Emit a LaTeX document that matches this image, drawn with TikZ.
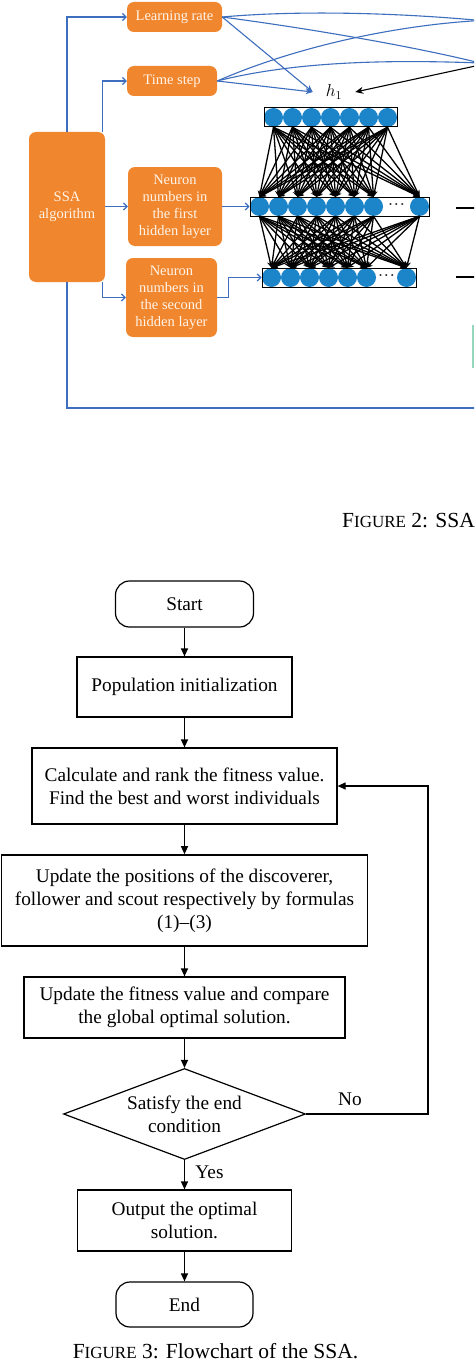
\documentclass[tikz,border=0pt]{standalone}
\usepackage{fontspec}
\setmainfont{Liberation Serif}
\usetikzlibrary{arrows.meta,shapes.geometric,calc}
\definecolor{ssaorange}{RGB}{240,134,46}
\definecolor{ssatext}{RGB}{255,244,232}
\definecolor{ssablue}{RGB}{62,110,190}
\definecolor{neuronblue}{RGB}{28,132,200}
\definecolor{ssagreen}{RGB}{150,215,190}
\begin{document}
\begin{tikzpicture}[x=1pt,y=-1pt,
  obox/.style={draw=none, fill=ssaorange, rounded corners=7pt, text=ssatext, font=\fontsize{14.5}{17}\selectfont, align=center, inner sep=0pt},
  bl/.style={draw=ssablue, line width=1.2pt},
  barb/.style={-{Straight Barb[length=3.5pt,width=7pt]}},
  neu/.style={circle, fill=neuronblue, minimum size=19pt, inner sep=0pt},
  layerbox/.style={draw=black, line width=1pt, inner sep=0pt, minimum height=19pt},
  syn/.style={black, line width=1.3pt, -{Stealth[length=6pt,width=6pt]}},
  fbox/.style={draw=black, line width=1.2pt, align=center, inner sep=0pt, font=\fontsize{19.3}{23}\selectfont},
  farrow/.style={black, line width=1.2pt, -{Triangle[length=8pt,width=7pt]}},
  lbl/.style={font=\fontsize{19.3}{23}\selectfont, inner sep=0pt},
  capt/.style={font=\fontsize{21.5}{22}\selectfont, inner sep=0pt},
  dotsl/.style={font=\bfseries\fontsize{12}{12}\selectfont, text=black!85, inner sep=0pt},
]
\useasboundingbox (0,0) rectangle (474,1362);
\clip (0,0) rectangle (474,1362);
\fill[white] (0,0) rectangle (474,1362);

% ---------- Figure 2 (cropped) ----------
\node[obox, minimum width=95pt, minimum height=30pt] (LR) at (174.5,17) {Learning rate};
\node[obox, minimum width=90pt, minimum height=30pt] (TS) at (172,81) {Time step};
\node[obox, minimum width=76pt, minimum height=150pt] (SSA) at (67,207) {SSA\\algorithm};
\node[obox, minimum width=94pt, minimum height=79pt] (N1) at (175,206.5) {Neuron\\numbers in\\the first\\hidden layer};
\node[obox, minimum width=91pt, minimum height=79pt] (N2) at (171.5,297.5) {Neuron\\numbers in\\the second\\hidden layer};

% neurons
\foreach \i in {1,...,7} \node[neu] (a\i) at ({273.5+19*(\i-1)},117.5) {};
\foreach \i in {1,...,7} \node[neu] (b\i) at ({259.5+19*(\i-1)},206.5) {};
\node[neu] (b8) at (419.5,206.5) {};
\foreach \i in {1,...,6} \node[neu] (c\i) at ({271.5+19*(\i-1)},277.5) {};
\node[neu] (c7) at (406.5,277.5) {};

% synapses
\foreach \i in {1,...,7} \foreach \j in {1,...,8} \draw[syn] (a\i.south) -- (b\j.north);
\foreach \i in {1,...,8} \foreach \j in {1,...,7} \draw[syn] (b\i.south) -- (c\j.north);

\node[layerbox, minimum width=133pt] (L1) at (330.5,117.5) {};
\node[layerbox, minimum width=179pt] (L2) at (339.5,206.5) {};
\node[layerbox, minimum width=154pt] (L3) at (339,277.5) {};
\node[dotsl] (d2) at (396.5,206.5) {·\,·\,·};
\node[dotsl] (d3) at (386.5,277.5) {·\,·\,·};

\node[font=\fontsize{18}{18}\selectfont, inner xsep=13pt, inner ysep=0pt] (h1) at (334,92) {$h_1$};

% blue connectors
\draw[bl, barb] (SSA.north) |- (LR.west);
\draw[bl, barb] ([xshift=-3pt]SSA.north east) |- (TS.west);
\draw[bl, barb] (SSA.east |- N1.west) -- (N1.west);
\draw[bl, barb] ([xshift=-3pt]SSA.south east) |- (N2.west);
\coordinate (rb) at (480,408);
\draw[bl] (SSA.south) |- (rb);
\draw[bl, barb] (N1.east) -- (L2.west);
\draw[bl, barb] (N2.east) -- ++(11,0) |- (L3.west);

\coordinate (eA) at (480,20.5);
\coordinate (eB) at (480,63);
\draw[bl, line width=1.1pt] (LR.east) .. controls (300,10) and (400,13) .. (eA);
\draw[bl, line width=1.1pt] (LR.east) .. controls (320,30) and (420,48) .. (eB);
\draw[bl, line width=1.1pt] (TS.east) .. controls (300,45) and (400,25) .. (eA);
\draw[bl, line width=1.1pt] (TS.east) .. controls (300,60) and (400,60) .. (eB);
\draw[bl, line width=1.1pt, -{Stealth[length=7pt,width=6pt]}] (LR.east) -- (h1.west);
\draw[bl, line width=1.1pt, -{Stealth[length=7pt,width=6pt]}] (TS.east) -- (h1.west);

\coordinate (eC) at (480,65);
\draw[black, line width=1.1pt, -{Stealth[length=8pt,width=7pt]}] (eC) -- (h1.east);

\coordinate (s1a) at (456,208); \coordinate (s1b) at (480,208);
\coordinate (s2a) at (456,277); \coordinate (s2b) at (480,277);
\draw[black, line width=1.2pt] (s1a) -- (s1b);
\draw[black, line width=1.2pt] (s2a) -- (s2b);
\coordinate (g1) at (472.5,325); \coordinate (g2) at (472.5,368);
\draw[ssagreen, line width=2pt] (g1) -- (g2);

\node[capt, anchor=base west] (cap2) at (342,527) {F{\fontsize{17}{17}\selectfont IGURE} 2: SSA};

% ---------- Figure 3 flowchart ----------
\node[fbox, rounded corners=14pt, minimum width=138pt, minimum height=46pt] (start) at (184.5,604) {Start};
\node[fbox, minimum width=215pt, minimum height=60pt] (pop) at (184.5,687) {Population initialization};
\node[fbox, minimum width=305pt, minimum height=76pt] (calc) at (184.5,786) {Calculate and rank the fitness value.\\Find the best and worst individuals};
\node[fbox, line width=1.6pt, minimum width=366pt, minimum height=91pt] (upd) at (184.5,900.5) {Update the positions of the discoverer,\\follower and scout respectively by formulas\\(1)--(3)};
\node[fbox, minimum width=321pt, minimum height=61pt] (fit) at (184.5,1007.5) {Update the fitness value and compare\\the global optimal solution.};
\node[fbox, diamond, aspect=2.66, minimum width=242pt, minimum height=91pt] (dec) at (184.5,1114) {Satisfy the end\\condition};
\node[fbox, minimum width=214pt, minimum height=61pt] (out) at (184.5,1220.5) {Output the optimal\\solution.};
\node[fbox, rounded corners=14pt, minimum width=137pt, minimum height=45pt] (end) at (184.5,1304.5) {End};

\draw[farrow] (start) -- (pop);
\draw[farrow] (pop) -- (calc);
\draw[farrow] (calc) -- (upd);
\draw[farrow] (upd) -- (fit);
\draw[farrow] (fit) -- (dec);
\draw[farrow] (dec) -- (out);
\draw[farrow] (out) -- (end);
\coordinate (fb) at (428,1114);
\draw[farrow] (dec.east) -- (fb) |- (calc.east);

\node[lbl] (no) at (350,1099) {No};
\node[lbl] (yes) at (209.5,1172) {Yes};

\node[capt, anchor=base] (cap3) at (215.5,1358) {F{\fontsize{17}{17}\selectfont IGURE} 3: Flowchart of the SSA.};
\end{tikzpicture}
\end{document}
